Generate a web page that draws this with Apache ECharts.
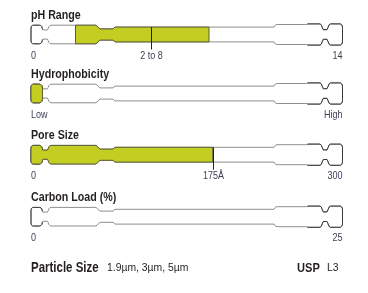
<!DOCTYPE html>
<html><head><meta charset="utf-8">
<script src="https://cdn.jsdelivr.net/npm/echarts@6/dist/echarts.min.js"></script>
<style>html,body{margin:0;padding:0;background:#fff}#c{width:368px;height:293px}</style>
</head><body><div id="c"></div>
<script>
// ---- data ----
const trackTitles = ['pH Range', 'Hydrophobicity', 'Pore Size', 'Carbon Load (%)'];
const axisMin = [0, 0, 0, 0];
const axisMax = [14, 1, 300, 25];
const minLabels = ['0', 'Low', '0', '0'];
const maxLabels = ['14', 'High', '300', '25'];
const fillStart = [2, 0, 0, 0];
const fillEnd = [8, 0.037, 175, 0];
const markerValue = [5.4, null, 175, null];
const markerLabel = ['2 to 8', null, '175Å', null];
const footerBold = ['Particle Size', 'USP'];
const footerText = ['1.9µm, 3µm, 5µm', 'L3'];

// ---- layout / style ----
const FONT = "'Liberation Sans', Arial, sans-serif";
const NARROW = 0.82;
const LABEL_COLOR = '#3d3f55';
const trackCenters = [34.5, 93.5, 154.7, 216.7];
const titleCenters = [15.5, 74, 135, 197];
const REF_LEN = 311.5;
// top-edge profile of the tube outline: [offset px along track, half-height px] (reference band = 20px)
const PROFILE = [
  [0, 6.5], [0.4, 8.2], [1.3, 9.0], [2.5, 9.3], [8.5, 9.3], [9.8, 8.9], [10.8, 7.8], [11.3, 6], [11.8, 4.6],
  [16.5, 4.6], [17.2, 6], [17.8, 7.8], [18.8, 8.9], [20, 9.3],
  [65, 9.3], [69, 5.6], [82, 5.6], [84, 7.4],
  [243, 7.4], [244.5, 9.5], [246, 10], [275.5, 10], [277, 10.6], [289, 10.6], [290.3, 9.6], [291.3, 7], [292.3, 4.8],
  [296, 4.8], [297, 7], [298, 9.6], [299.5, 10.6], [309.3, 10.6], [310.6, 9.8], [311.3, 8.5], [311.5, 6.8]
];

function renderTrack(params, api) {
  const i = params.seriesIndex;
  const p0 = api.coord([axisMin[i], 0]);
  const p1 = api.coord([axisMax[i], 0]);
  const cy = p0[1];
  const kx = (p1[0] - p0[0]) / REF_LEN;
  const ky = api.size([0, 1])[1] / 20;
  const pts = PROFILE.map(([o, h]) => [p0[0] + o * kx, h * ky]);
  function hAt(x) {
    if (x <= pts[0][0]) return pts[0][1];
    for (let k = 1; k < pts.length; k++) {
      if (x <= pts[k][0]) {
        const a = pts[k - 1], b = pts[k];
        const t = (x - a[0]) / ((b[0] - a[0]) || 1);
        return a[1] + t * (b[1] - a[1]);
      }
    }
    return pts[pts.length - 1][1];
  }
  function edge(xa, xb) {
    const e = [[xa, hAt(xa)]];
    pts.forEach(p => { if (p[0] > xa && p[0] < xb) e.push(p); });
    e.push([xb, hAt(xb)]);
    return e;
  }
  function poly(xa, xb) {
    const e = edge(xa, xb);
    return e.map(p => [p[0], cy - p[1]]).concat(e.slice().reverse().map(p => [p[0], cy + p[1]]));
  }
  const xL = pts[0][0], xR = pts[pts.length - 1][0];
  const children = [];
  children.push({ type: 'polygon', shape: { points: poly(xL, xR) },
    style: { fill: '#ffffff', stroke: '#8e8e8e', lineWidth: 1 } });
  // darker outline at the ends
  const leftEnd = p0[0] + 11.6 * kx, rightStart = p0[0] + 276.3 * kx;
  const le = edge(xL, leftEnd);
  children.push({ type: 'polyline', shape: { points: le.slice().reverse().map(p => [p[0], cy + p[1]]).concat(le.map(p => [p[0], cy - p[1]])) },
    style: { fill: null, stroke: '#3a3a3a', lineWidth: 1 } });
  const re = edge(rightStart, xR);
  children.push({ type: 'polyline', shape: { points: re.map(p => [p[0], cy - p[1]]).concat(re.slice().reverse().map(p => [p[0], cy + p[1]])) },
    style: { fill: null, stroke: '#3a3a3a', lineWidth: 1 } });
  const s = api.value(0), e = api.value(1);
  if (e > s) {
    const xa = api.coord([s, 0])[0], xb = api.coord([e, 0])[0];
    children.push({ type: 'polygon', shape: { points: poly(Math.max(xa, xL), Math.min(xb, xR)) },
      style: { fill: '#c3cd22', stroke: '#5b5d3a', lineWidth: 1 } });
  }
  const labelY = cy + 21 * ky;
  const lblFont = '11px ' + FONT;
  children.push({ type: 'text', x: p0[0], y: labelY, scaleX: NARROW,
    style: { text: minLabels[i], fill: LABEL_COLOR, font: lblFont, align: 'left', verticalAlign: 'middle' } });
  children.push({ type: 'text', x: p1[0], y: labelY, scaleX: NARROW,
    style: { text: maxLabels[i], fill: LABEL_COLOR, font: lblFont, align: 'right', verticalAlign: 'middle' } });
  if (markerLabel[i] != null) {
    const xm = Math.round(api.coord([markerValue[i], 0])[0]) + 0.5;
    children.push({ type: 'line', shape: { x1: xm, y1: cy - hAt(xm), x2: xm, y2: cy + 15 * ky },
      style: { stroke: '#222', lineWidth: 1 } });
    children.push({ type: 'text', x: xm, y: labelY, scaleX: NARROW,
      style: { text: markerLabel[i], fill: LABEL_COLOR, font: lblFont, align: 'center', verticalAlign: 'middle' } });
  }
  return { type: 'group', children };
}

const grids = [], xAxes = [], yAxes = [], series = [];
trackTitles.forEach((t, i) => {
  grids.push({ left: 31, right: 25.5, top: trackCenters[i] - 10, height: 20 });
  xAxes.push({
    gridIndex: i, type: 'value', min: axisMin[i], max: axisMax[i], interval: axisMax[i] - axisMin[i],
    axisLine: { show: false }, axisTick: { show: false }, splitLine: { show: false }, axisLabel: { show: false }
  });
  yAxes.push({ gridIndex: i, type: 'category', data: [t], show: false });
  series.push({
    type: 'custom', xAxisIndex: i, yAxisIndex: i, renderItem: renderTrack, clip: false,
    encode: { x: [0, 1], y: 2 }, silent: true,
    data: [[fillStart[i], fillEnd[i], 0]]
  });
});

function txt(x, y, text, font, sx) {
  return { type: 'text', x, y, scaleX: sx || NARROW,
    style: { text, font, fill: '#231f20', verticalAlign: 'middle' } };
}
const graphics = trackTitles.map((t, i) => txt(31, titleCenters[i], t, 'bold 13px ' + FONT));
graphics.push(txt(31, 268, footerBold[0], 'bold 14px ' + FONT));
graphics.push(txt(107, 268, footerText[0], '11.8px ' + FONT, 0.88));
graphics.push(txt(297, 268, footerBold[1], 'bold 13.5px ' + FONT));
graphics.push(txt(327, 268, footerText[1], '11.8px ' + FONT, 0.88));

const chart = echarts.init(document.getElementById('c'), null, { renderer: 'canvas' });
chart.setOption({
  animation: false,
  grid: grids, xAxis: xAxes, yAxis: yAxes, series,
  graphic: graphics
});
</script></body></html>
